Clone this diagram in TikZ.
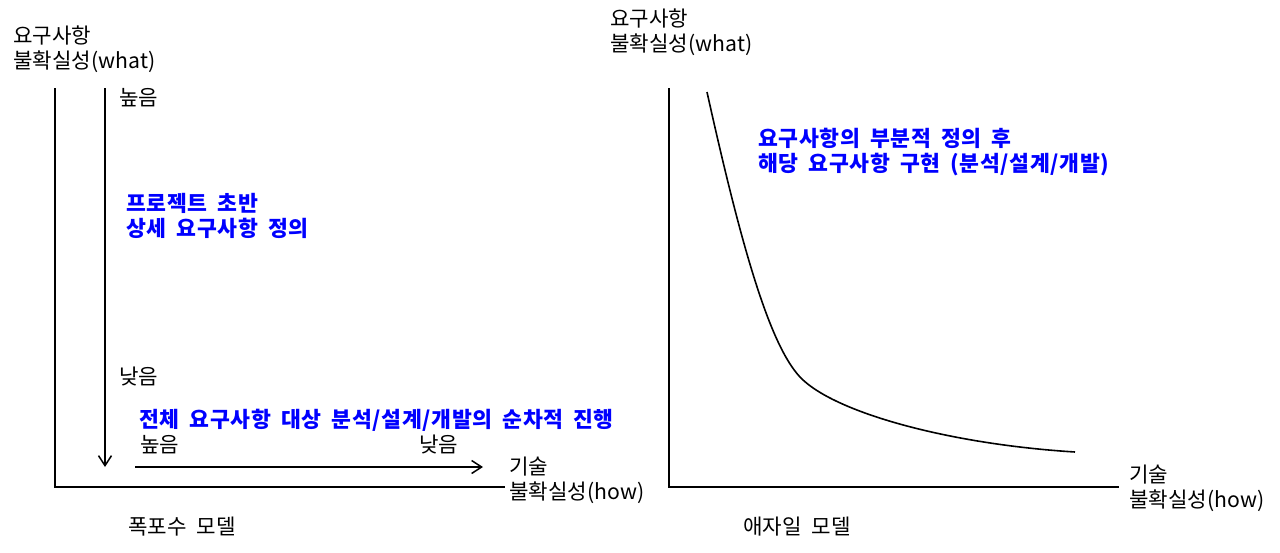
\documentclass[tikz,border=0pt]{standalone}
\usepackage{fontspec}
\setmainfont{Noto Sans CJK KR}
\usepackage{tikz}
\usetikzlibrary{arrows.meta}
\definecolor{noteblue}{RGB}{0,0,255}
\newcommand{\plainfont}{\fontsize{10.6}{12.5}\selectfont\spaceskip 5pt\relax}
\newcommand{\remarkfont}{\fontsize{10.8}{12.5}\selectfont\bfseries\addfontfeature{LetterSpace=3}\spaceskip 5pt\relax}
\tikzset{
    txt/.style={anchor=west, inner sep=0pt, align=left, font=\plainfont},
    remark/.style={txt, text=noteblue, font=\remarkfont},
    axisline/.style={line width=1pt},
    flow/.style={line width=0.75pt, -{Straight Barb[length=5pt, width=6.5pt, line width=0.75pt]}},
    curveline/.style={line width=0.8pt}
}
\begin{document}
\begin{tikzpicture}[x=0.5pt, y=-0.5pt]
    \useasboundingbox (0,0) rectangle (1280,552);
    % waterfall
    \coordinate (wf-top) at (55,88);
    \coordinate (wf-end) at (505,487);
    \coordinate (wf-hi) at (105,88);
    \coordinate (wf-lo) at (105,467);
    \coordinate (wf-start) at (135,467);
    \coordinate (wf-stop) at (483,467);
    \draw[axisline] (wf-top) |- (wf-end);
    \draw[flow] (wf-hi) -- (wf-lo);
    \draw[flow] (wf-start) -- (wf-stop);
    \node[txt] (wf-what) at (13,49.5) {요구사항\\불확실성(what)};
    \node[txt] (wf-how) at (509,480) {기술\\불확실성(how)};
    \node[txt] (wf-hi-label) at (119,98) {높음};
    \node[txt] (wf-lo-label) at (119,377) {낮음};
    \node[txt] (wf-start-label) at (140,445) {높음};
    \node[txt] (wf-stop-label) at (419,445) {낮음};
    \node[remark] (wf-early) at (126,215.5) {프로젝트 초반\\상세 요구사항 정의};
    \node[remark] (wf-seq) at (139,420) {전체 요구사항 대상 분석/설계/개발의 순차적 진행};
    \node[txt] (wf-title) at (128,527) {폭포수 모델};
    % agile
    \coordinate (ag-top) at (669,88);
    \coordinate (ag-end) at (1119,487);
    \coordinate (ag-high) at (707,92);
    \coordinate (ag-knee) at (800,377);
    \coordinate (ag-low) at (1075,452);
    \draw[axisline] (ag-top) |- (ag-end);
    \draw[curveline] (ag-high) .. controls (742,250) and (770,345) .. (ag-knee)
        .. controls (833,412) and (947,444) .. (ag-low);
    \node[txt] (ag-what) at (610,32.5) {요구사항\\불확실성(what)};
    \node[txt] (ag-how) at (1129,488.5) {기술\\불확실성(how)};
    \node[remark] (ag-part) at (758,152.5) {요구사항의 부분적 정의 후\\해당 요구사항 구현 (분석/설계/개발)};
    \node[txt] (ag-title) at (743,527) {애자일 모델};
\end{tikzpicture}
\end{document}
